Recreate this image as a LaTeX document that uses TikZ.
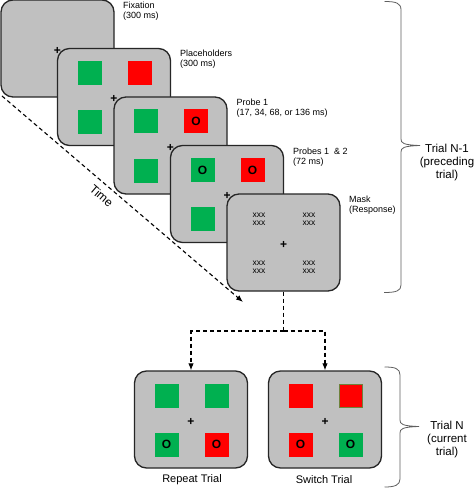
\documentclass[tikz,border=0pt]{standalone}
\usepackage{fontspec}
\setmainfont{Liberation Sans}
\usetikzlibrary{calc,arrows.meta}
\definecolor{scr}{RGB}{192,192,192}
\definecolor{grn}{RGB}{0,176,80}
\definecolor{rd}{RGB}{255,0,0}
\definecolor{brc}{RGB}{95,95,95}
\definecolor{olv}{RGB}{110,130,60}
\tikzset{
 screen/.style={draw=black!85, line width=1.3pt, fill=scr, rounded corners=12pt, minimum width=113pt, minimum height=97pt, inner sep=0},
 sqr/.style={minimum size=24pt, inner sep=0, font=\fontsize{12}{12}\selectfont\bfseries},
 fix/.style={inner sep=0, font=\fontsize{12}{12}\selectfont\bfseries},
 lbl/.style={anchor=north west, inner sep=0, align=left, font=\fontsize{9}{10}\selectfont},
 maskt/.style={inner sep=0, align=center, font=\fontsize{8.5}{8}\selectfont},
 trial/.style={align=center, inner sep=0, font=\fontsize{11.5}{13}\selectfont},
 cond/.style={inner sep=0, font=\fontsize{11}{12}\selectfont},
 flow/.style={dash pattern=on 4pt off 3pt, line width=1.1pt, -{Latex[length=7pt,width=5.5pt]}},
 brace/.style={draw=brc, line width=0.8pt},
}
\newcommand{\cell}[5]{\node[sqr,fill=#4] (#1#2) at ($(#1)+(#3)$) {#5};}
\newcommand{\mcell}[3]{\node[maskt] (#1#2) at ($(#1)+(#3)$) {xxx\\xxx};}
\begin{document}
\begin{tikzpicture}[x=1pt,y=-1pt]
\useasboundingbox (0,0) rectangle (474,489);
\fill[white] (0,0) rectangle (474,489);
% screen 1: fixation
\node[screen] (s1) at (57.5,48.5) {};
\node[fix] (s1x) at ($(s1)+(0,2)$) {+};
\node[lbl] (l1) at (123,1.5) {Fixation\\(300 ms)};
% screen 2: placeholders
\node[screen] (s2) at (114,97) {};
\cell{s2}{tl}{-24.5,-24}{grn}{}
\cell{s2}{tr}{25.5,-24}{rd}{}
\cell{s2}{bl}{-24.5,25}{grn}{}
\node[fix] (s2x) at ($(s2)+(0,2)$) {+};
\node[lbl] (l2) at (180,50) {Placeholders\\(300 ms)};
% screen 3: probe 1
\node[screen] (s3) at (170.5,145.5) {};
\cell{s3}{tl}{-24.5,-24}{grn}{}
\cell{s3}{tr}{25.5,-24}{rd}{O}
\cell{s3}{bl}{-24.5,25}{grn}{}
\node[fix] (s3x) at ($(s3)+(0,2)$) {+};
\node[lbl] (l3) at (236.5,98.5) {Probe 1\\(17, 34, 68, or 136 ms)};
% screen 4: probes 1 & 2
\node[screen] (s4) at (227,194) {};
\cell{s4}{tl}{-24.5,-24}{grn}{O}
\cell{s4}{tr}{25.5,-24}{rd}{O}
\cell{s4}{bl}{-24.5,25}{grn}{}
\node[fix] (s4x) at ($(s4)+(0,2)$) {+};
\node[lbl] (l4) at (293,147.5) {Probes 1~ \& 2\\(72 ms)};
% screen 5: mask
\node[screen] (s5) at (283.5,242.5) {};
\mcell{s5}{tl}{-24.5,-23.5}
\mcell{s5}{tr}{25.5,-23.5}
\mcell{s5}{bl}{-24.5,25}
\mcell{s5}{br}{25.5,25}
\node[fix] (s5x) at ($(s5)+(0,2)$) {+};
\node[lbl] (l5) at (349,195.5) {Mask\\(Response)};
% time arrow
\coordinate (t0) at (2,96);
\coordinate (t1) at (243,302);
\draw[flow] (t0) -- (t1);
\node[font=\fontsize{12}{12}\selectfont, rotate=-40.7, inner sep=0] (time) at (101.5,196) {Time};
% current trial screens
\node[screen] (rep) at (191,419.5) {};
\cell{rep}{tl}{-24.5,-24}{grn}{}
\cell{rep}{tr}{25.5,-24}{grn}{}
\cell{rep}{bl}{-24.5,25}{grn}{O}
\cell{rep}{br}{25.5,25}{rd}{O}
\node[fix] (repx) at ($(rep)+(0,2)$) {+};
\node[cond] (repl) at (192,480) {Repeat Trial};
\node[screen] (sw) at (325,419.5) {};
\cell{sw}{tl}{-24.5,-24}{rd}{}
\node[sqr,fill=rd,draw=olv,line width=0.7pt,minimum size=23.3pt] (swtr) at ($(sw)+(25.5,-24)$) {};
\cell{sw}{bl}{-24.5,25}{rd}{O}
\cell{sw}{br}{25.5,25}{grn}{O}
\node[fix] (swx) at ($(sw)+(0,2)$) {+};
\node[cond] (swl) at (324,480) {Switch Trial};
% connectors
\coordinate (j) at (283.5,331);
\draw[flow,-] (s5.south) -- (j);
\draw[flow] (j) -| (rep.north);
\draw[flow] (j) -| (sw.north);
% braces
\draw[brace] (384.5,1.5) .. controls (396,1.5) and (401,3) .. (401,10) -- (401,139) .. controls (401,143) and (403,145) .. (420,145.5) .. controls (403,146) and (401,148) .. (401,152) -- (401,285) .. controls (401,291) and (396,292.5) .. (384,292.5);
\node[trial] (tn1) at (447,163) {Trial N-1\\(preceding\\trial)};
\draw[brace] (384.5,367) .. controls (395,367) and (400,368.5) .. (400,375) -- (400,420) .. controls (400,424) and (402,426) .. (419,426.5) .. controls (402,427) and (400,429) .. (400,433) -- (400,479) .. controls (400,485) and (395,487) .. (384.5,487);
\node[trial] (tn) at (447,439.5) {Trial N\\(current\\trial)};
\end{tikzpicture}
\end{document}
